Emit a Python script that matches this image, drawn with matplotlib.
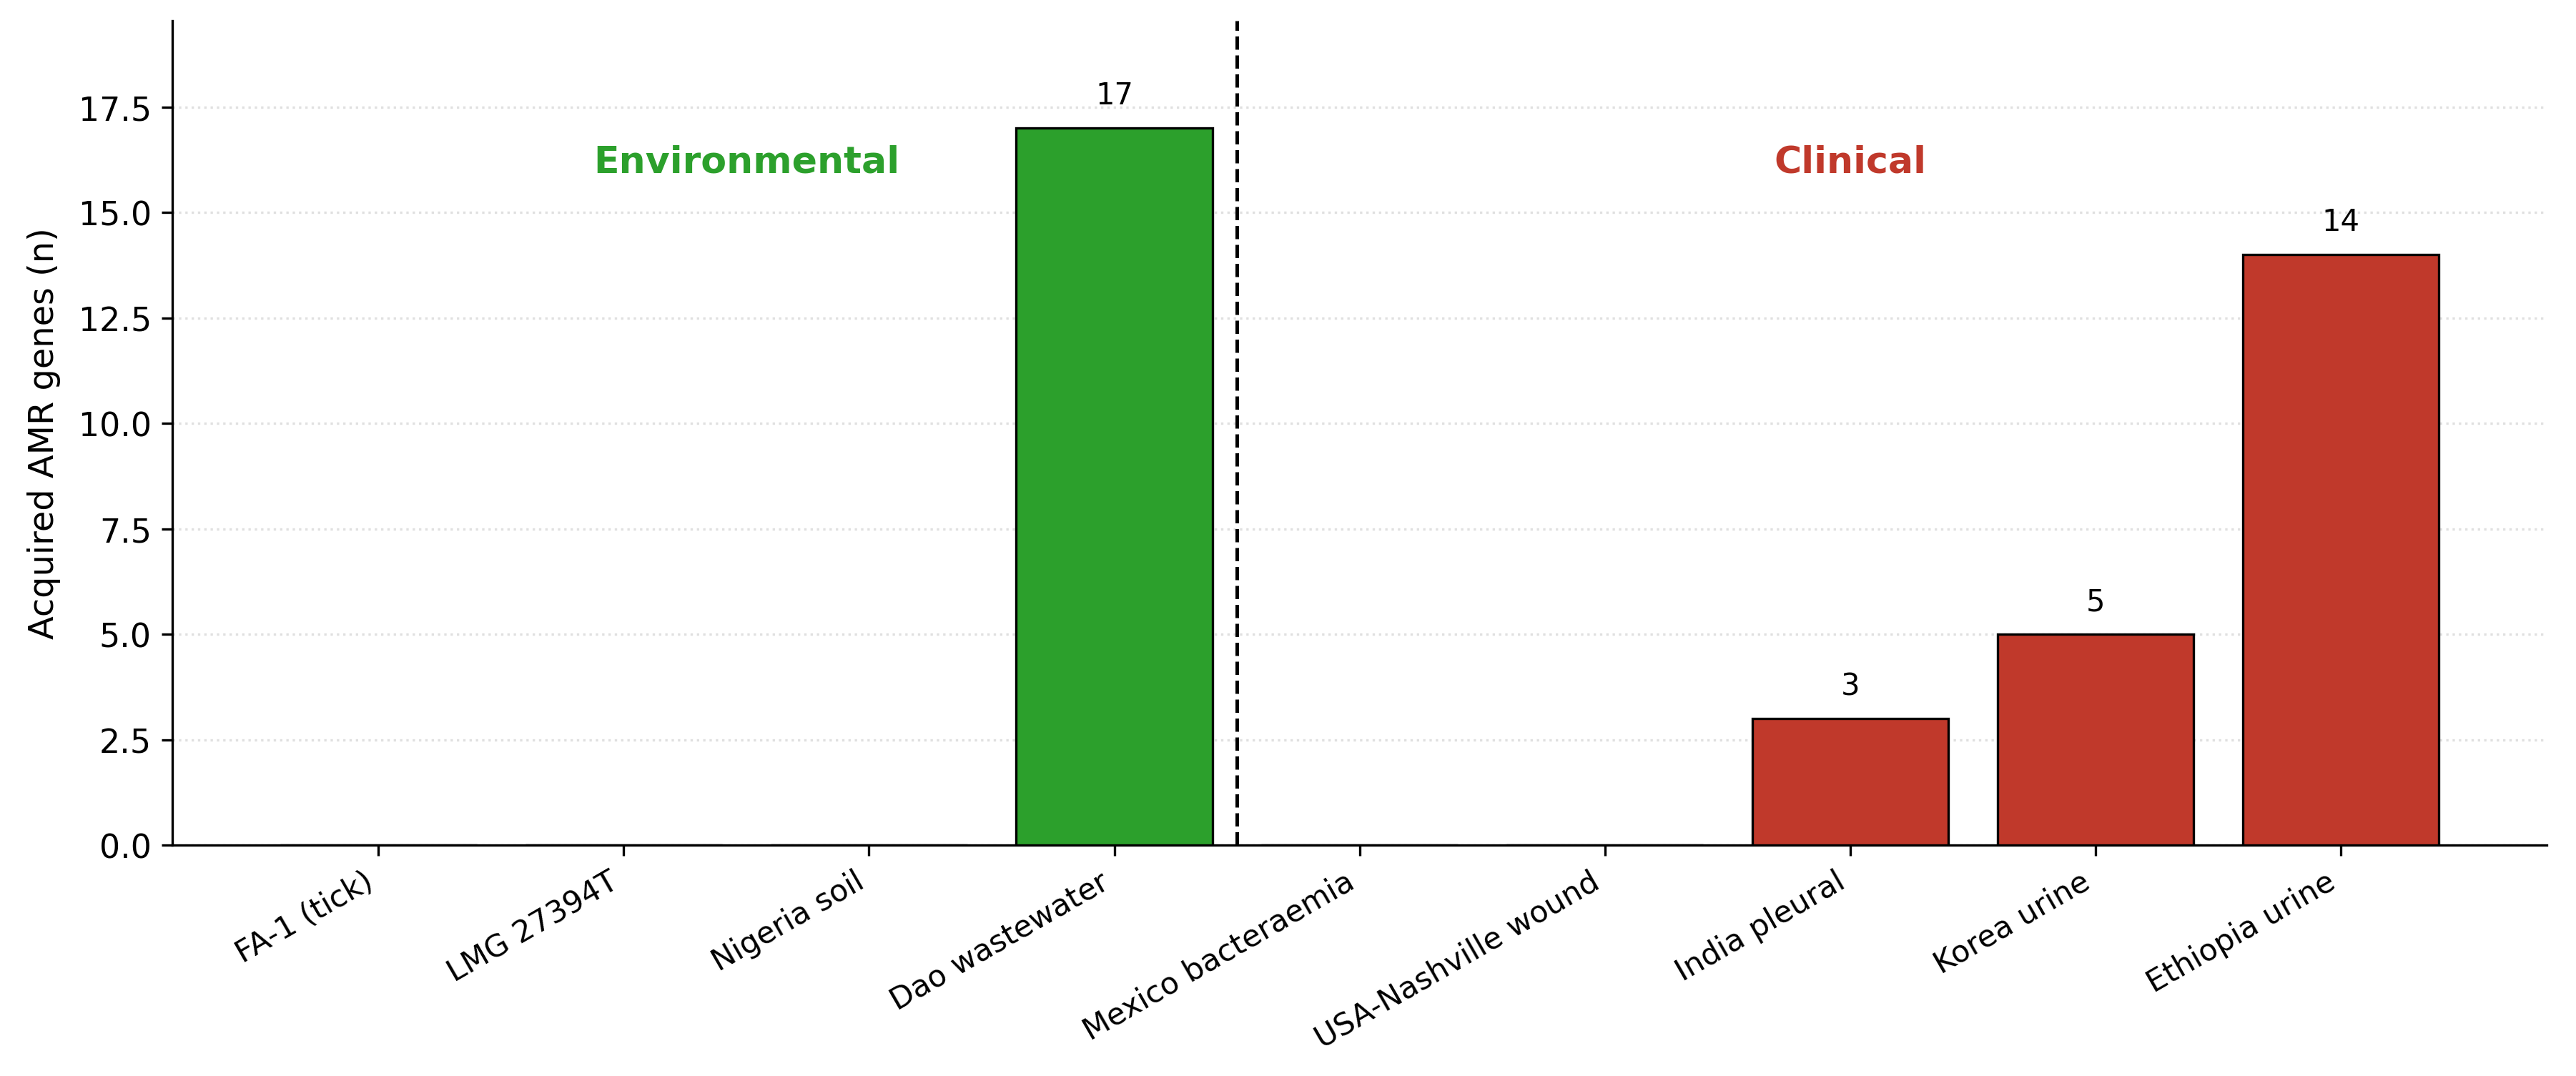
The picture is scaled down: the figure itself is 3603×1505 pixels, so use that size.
import matplotlib
matplotlib.use('Agg')
import matplotlib.pyplot as plt
import numpy as np

# ---------------------------------------------------------------DATA---------------------------------------------------------------#
isolates = ['FA-1 (tick)', 'LMG 27394T', 'Nigeria soil', 'Dao wastewater',
            'Mexico bacteraemia', 'USA-Nashville wound', 'India pleural', 'Korea urine', 'Ethiopia urine']
amr_genes = [0, 0, 0, 17, 0, 0, 3, 5, 14]
source = ['env', 'env', 'env', 'env', 'clin', 'clin', 'clin', 'clin', 'clin']

env_color = '#2ca02c'
clin_color = '#c0392b'

# ---------------------------------------------------------------PLOT---------------------------------------------------------------#
fig, ax = plt.subplots(figsize=(12.013, 5.02), dpi=300)
fig.subplots_adjust(left=0.0669, right=0.9884, top=0.980, bottom=0.2145)

x = np.arange(len(isolates))
colors = [env_color if s == 'env' else clin_color for s in source]
bars = ax.bar(x, amr_genes, width=0.8, color=colors, edgecolor='black', linewidth=0.8, zorder=3)

# value labels only for non-zero bars
for rect, val in zip(bars, amr_genes):
    if val > 0:
        ax.annotate('{}'.format(val), xy=(rect.get_x() + rect.get_width() / 2, val),
                    xytext=(0, 6), textcoords='offset points', ha='center', va='bottom', fontsize=10)

# split between environmental and clinical isolates
n_env = source.count('env')
ax.axvline(n_env - 0.5, color='black', linestyle='--', linewidth=1.2, zorder=4)

ymax = max(amr_genes) * 1.15
ax.set_ylim(0, ymax)
ax.text((n_env - 1) / 2, 16.2, 'Environmental', color=env_color, fontsize=12.5, fontweight='bold',
        ha='center', va='center')
ax.text(n_env + (len(isolates) - n_env - 1) / 2, 16.2, 'Clinical', color=clin_color, fontsize=12.5,
        fontweight='bold', ha='center', va='center')

ax.set_xticks(x)
ax.set_xticklabels(isolates, rotation=30, ha='right', fontsize=10.2)
ax.tick_params(axis='y', labelsize=11)
ax.set_ylabel('Acquired AMR genes (n)', fontsize=11.5, labelpad=6)
ax.yaxis.grid(True, linestyle=':', color='lightgray', alpha=0.7, zorder=0)
ax.spines['top'].set_visible(False)
ax.spines['right'].set_visible(False)

fig.savefig('out.png', dpi=300)
